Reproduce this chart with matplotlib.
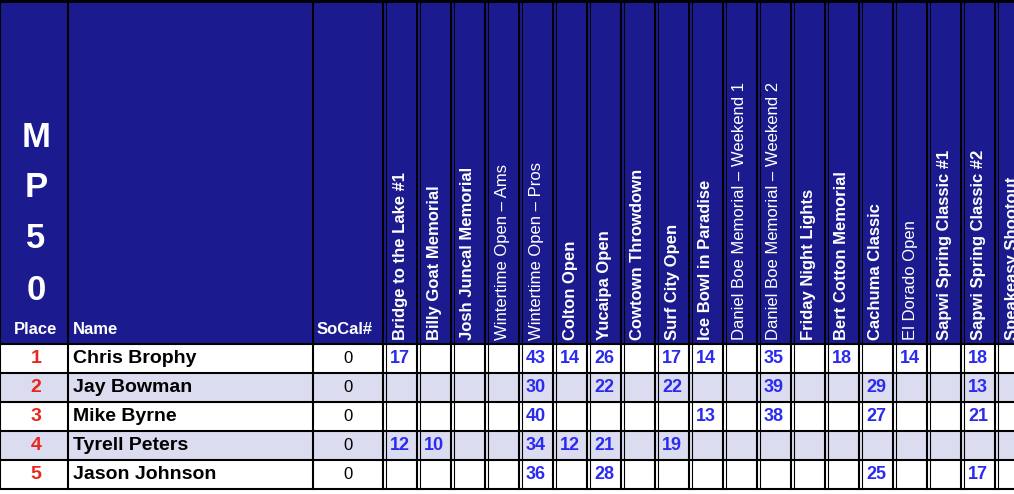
import matplotlib.pyplot as plt
from matplotlib.patches import Rectangle

plt.rcParams['font.family'] = ['Liberation Sans', 'DejaVu Sans']

places = [1, 2, 3, 4, 5]
names = ['Chris Brophy', 'Jay Bowman', 'Mike Byrne', 'Tyrell Peters', 'Jason Johnson']
socal = [0, 0, 0, 0, 0]
events = ['Bridge to the Lake #1', 'Billy Goat Memorial', 'Josh Juncal Memorial',
          'Wintertime Open – Ams', 'Wintertime Open – Pros', 'Colton Open', 'Yucaipa Open',
          'Cowtown Throwdown', 'Surf City Open', 'Ice Bowl in Paradise',
          'Daniel Boe Memorial – Weekend 1', 'Daniel Boe Memorial – Weekend 2',
          'Friday Night Lights', 'Bert Cotton Memorial', 'Cachuma Classic', 'El Dorado Open',
          'Sapwi Spring Classic #1', 'Sapwi Spring Classic #2', 'Speakeasy Shootout']
bold_event = [True, True, True, False, False, True, True, True, True, True,
              False, False, True, True, True, False, True, True, True]
scores = [
    [17, None, None, None, 43, 14, 26, None, 17, 14, None, 35, None, 18, None, 14, None, 18, None],
    [None, None, None, None, 30, None, 22, None, 22, None, None, 39, None, None, 29, None, None, 13, None],
    [None, None, None, None, 40, None, None, None, None, 13, None, 38, None, None, 27, None, None, 21, None],
    [12, 10, None, None, 34, 12, 21, None, 19, None, None, None, None, None, None, None, None, None, None],
    [None, None, None, None, 36, None, 28, None, None, None, None, None, None, None, 25, None, None, 17, None],
]

navy = '#1b1b8f'
fig = plt.figure(figsize=(10.14, 4.94), dpi=100)
ax = fig.add_axes([0, 0, 1, 1])
ax.set_xlim(0, 1014)
ax.set_ylim(494, 0)
ax.axis('off')

# column edges
col_x = [0, 68, 313, 383] + [383 + 34 * (i + 1) for i in range(len(events))]
head_bot = 344
row_h = 29

ax.add_patch(Rectangle((0, 0), 1014, head_bot, color=navy))
for i in range(len(places)):
    y = head_bot + i * row_h
    ax.add_patch(Rectangle((0, y), 1014, row_h, color='white' if i % 2 == 0 else '#dcdcf0'))

# header text
for ch, y in zip('MP50', [137, 187, 238, 290]):
    ax.text(36, y, ch, color='white', fontsize=25, fontweight='bold', ha='center', va='center')
ax.text(36, 329, 'Place', color='white', fontsize=12, fontweight='bold', ha='center', va='center')
ax.text(73, 329, 'Name', color='white', fontsize=12, fontweight='bold', ha='left', va='center')
ax.text(345, 329, 'SoCal#', color='white', fontsize=12, fontweight='bold', ha='center', va='center')
for j, ev in enumerate(events):
    xc = (col_x[3 + j] + col_x[4 + j]) / 2
    ax.text(xc, 340, ev, color='white', fontsize=12, rotation=90, ha='center', va='bottom',
            fontweight='bold' if bold_event[j] else 'normal', clip_on=True)

# rows
for i in range(len(places)):
    yc = head_bot + i * row_h + row_h / 2
    ax.text(36, yc, str(places[i]), color='#e8261c', fontsize=14, fontweight='bold', ha='center', va='center')
    ax.text(73, yc, names[i], color='black', fontsize=14, fontweight='bold', ha='left', va='center')
    ax.text(348, yc, str(socal[i]), color='black', fontsize=12, ha='center', va='center')
    for j, v in enumerate(scores[i]):
        if v is not None:
            xc = (col_x[3 + j] + col_x[4 + j]) / 2
            ax.text(xc, yc, str(v), color='#2b2bf0', fontsize=13, fontweight='bold', ha='center', va='center')

# grid lines
bottom = head_bot + len(places) * row_h
for x in col_x:
    ax.plot([x, x], [0, bottom], color='black', lw=1.5)
    if x >= 383:
        ax.plot([x + 3, x + 3], [0, bottom], color='black', lw=0.8)
for i in range(len(places) + 1):
    y = head_bot + i * row_h
    ax.plot([0, 1014], [y, y], color='black', lw=1.5)
ax.plot([0, 1014], [1, 1], color='black', lw=2)

fig.savefig('out.png', dpi=100)
